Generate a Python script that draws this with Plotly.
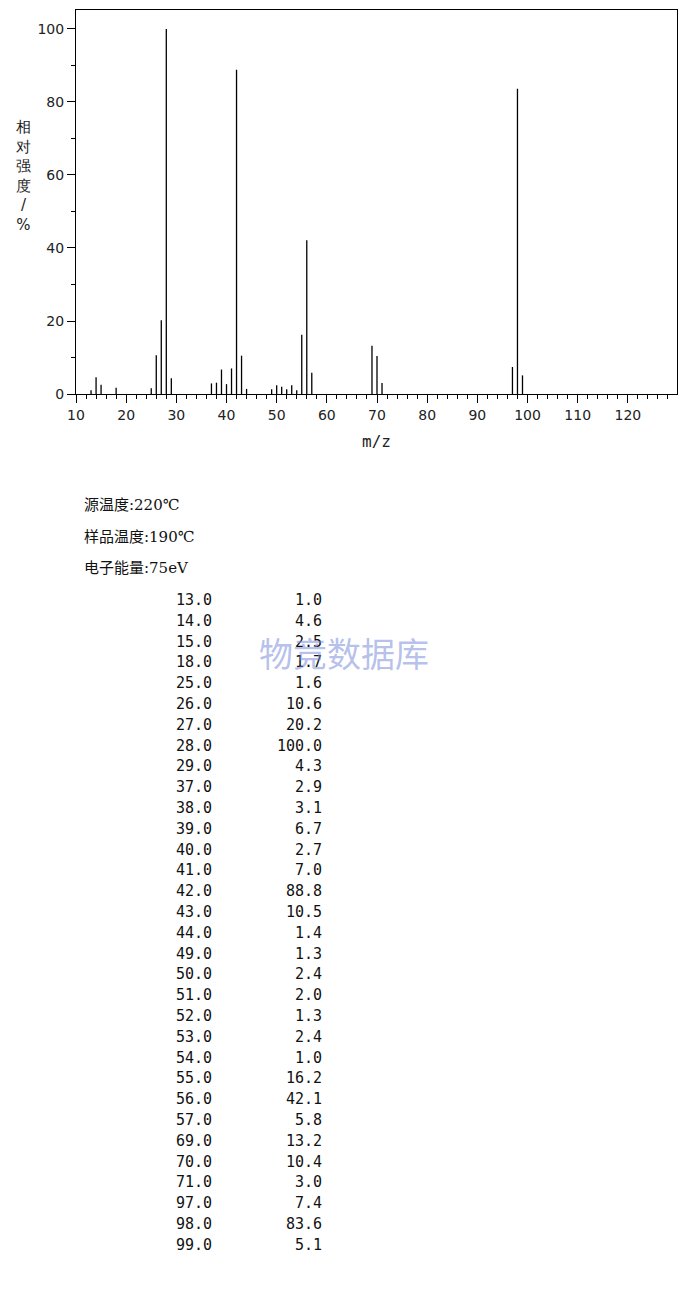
import plotly.graph_objects as go

mz = [13, 14, 15, 18, 25, 26, 27, 28, 29, 37, 38, 39, 40, 41, 42, 43, 44, 49, 50, 51,
      52, 53, 54, 55, 56, 57, 69, 70, 71, 97, 98, 99]
intensity = [1.0, 4.6, 2.5, 1.7, 1.6, 10.6, 20.2, 100.0, 4.3, 2.9, 3.1, 6.7, 2.7, 7.0,
             88.8, 10.5, 1.4, 1.3, 2.4, 2.0, 1.3, 2.4, 1.0, 16.2, 42.1, 5.8, 13.2, 10.4,
             3.0, 7.4, 83.6, 5.1]
info_lines = ["源温度:220℃", "样品温度:190℃", "电子能量:75eV"]

OFF = 8  # page body margin
W, H = 687 - OFF, 1304 - OFF
L, R = 76, 677  # plot area pixels in page
T, B = 10, 394


def px_(pix):
    return (pix - L) / (R - L)


def py(pix):
    return (B - pix) / (B - T)


xs, ys = [], []
for m, v in zip(mz, intensity):
    xs += [m, m, None]
    ys += [0, v, None]

fig = go.Figure(go.Scatter(x=xs, y=ys, mode="lines", line=dict(color="black", width=1.3),
                           hoverinfo="skip"))

mono = dict(size=15, family="DejaVu Sans Mono", color="#111")
ann = []


def add(text, x, y, font, xanchor="center"):
    ann.append(dict(text=text, xref="paper", yref="paper", x=px_(x), y=py(y),
                    xanchor=xanchor, yanchor="middle", showarrow=False, font=font))


add("相<br>对<br>强<br>度<br>/<br>%", 24, 176, dict(size=15, color="#222"))
add("m/z", 376, 441, dict(size=16, family="DejaVu Sans Mono", color="#222"))
for i, t in enumerate(info_lines):
    add(t, 82, 505 + 31.5 * i,
        dict(size=15, family="DejaVu Serif, Noto Sans CJK SC", color="#111"), "left")
for i, (m, v) in enumerate(zip(mz, intensity)):
    yy = 600 + 20.8 * i
    add(f"{m:.1f}", 214, yy, mono, "right")
    add(f"{v:.1f}", 324, yy, mono, "right")
add("物竞数据库", 344, 652,
    dict(size=34, family="Noto Sans CJK SC", color="rgba(120,140,220,0.55)"))

fig.update_layout(
    width=W, height=H, margin=dict(l=L - OFF, r=W - (R - OFF), t=T - OFF, b=H - (B - OFF)),
    plot_bgcolor="white", paper_bgcolor="white", showlegend=False,
    annotations=ann,
    font=dict(family="DejaVu Sans", size=14, color="#222"),
)
fig.update_xaxes(range=[10, 129.8], tickvals=list(range(10, 130, 10)), ticks="outside",
                 ticklen=8, tickcolor="black", showline=True, linecolor="black", mirror=True,
                 showgrid=False, zeroline=False,
                 minor=dict(dtick=2, tick0=10, ticks="outside", ticklen=4, tickcolor="black"))
fig.update_yaxes(range=[0, 105.2], tickvals=[0, 20, 40, 60, 80, 100], ticks="outside",
                 ticklen=8, tickcolor="black", showline=True, linecolor="black", mirror=True,
                 showgrid=False, zeroline=False,
                 minor=dict(dtick=10, tick0=0, ticks="outside", ticklen=4, tickcolor="black"))

fig.write_html("out.html")
